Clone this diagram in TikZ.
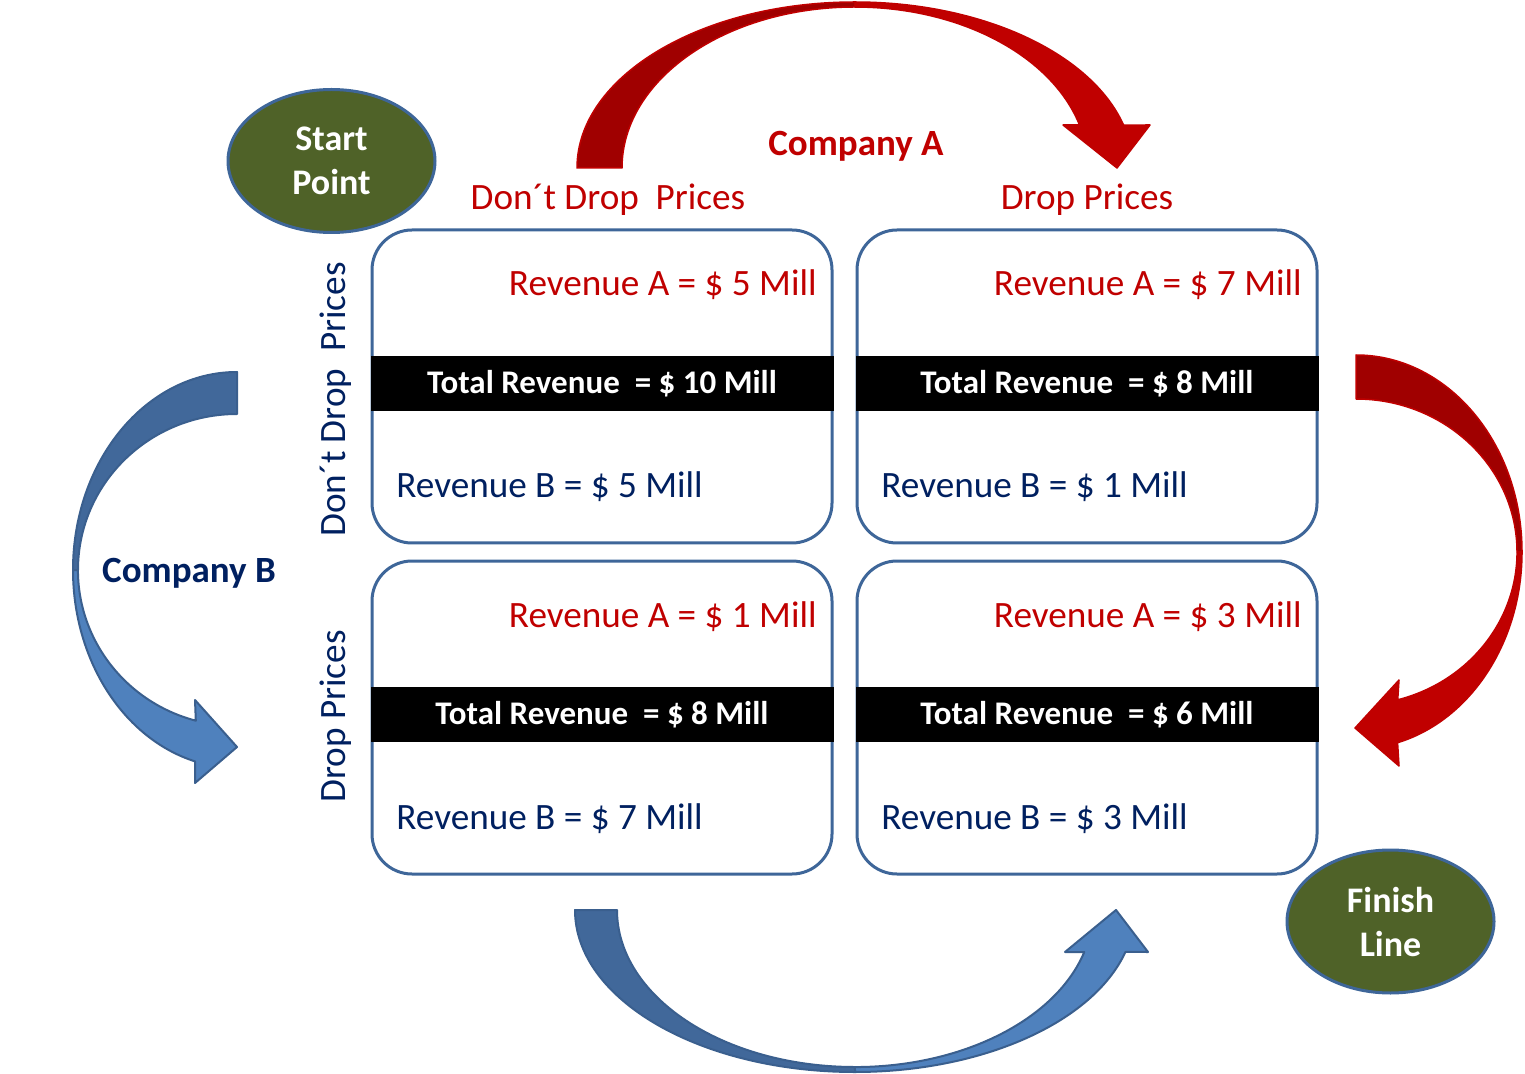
\documentclass[tikz,border=0pt]{standalone}
\usepackage{fontspec}
\setmainfont{Carlito}
\usetikzlibrary{shapes.geometric}
\definecolor{darkred}{HTML}{A00000}
\definecolor{brightred}{HTML}{C00000}
\definecolor{navy}{HTML}{002060}
\definecolor{frameblue}{HTML}{3E6699}
\definecolor{edgeblue}{HTML}{3A5F8E}
\definecolor{backblue}{HTML}{41689A}
\definecolor{frontblue}{HTML}{4F81BD}
\definecolor{olive}{HTML}{4F6228}

\begin{document}
\begin{tikzpicture}[x=0.5pt,y=-0.5pt,
		cell/.style={draw=frameblue,line width=1.5pt,rounded corners=20pt,minimum width=230pt,minimum height=156.5pt,inner sep=0pt},
		band/.style={fill=black,text=white,font=\fontsize{16.5}{19}\selectfont\bfseries,minimum width=231.5pt,minimum height=27.5pt,inner sep=0pt},
		reva/.style={text=brightred,font=\fontsize{18.6}{22}\selectfont,inner sep=0pt},
		revb/.style={text=navy,font=\fontsize{18.6}{22}\selectfont,inner sep=0pt},
		choice/.style={text=brightred,font=\fontsize{18.6}{22}\selectfont,inner sep=0pt},
		side/.style={text=navy,font=\fontsize{18.6}{22}\selectfont,inner sep=0pt,rotate=90},
		company/.style={font=\fontsize{18.5}{22}\selectfont\bfseries,inner sep=0pt},
		oval/.style={ellipse,draw=frameblue,line width=1.5pt,fill=olive,text=white,align=center,font=\fontsize{18}{22}\selectfont\bfseries,minimum width=103.5pt,minimum height=71.5pt,inner sep=0pt},
		redback/.style={fill=darkred,draw=brightred,line width=0.75pt,line join=round},
		redfront/.style={fill=brightred,draw=brightred,line width=0.75pt,line join=round},
		blueback/.style={fill=backblue,draw=edgeblue,line width=1pt,line join=round},
		bluefront/.style={fill=frontblue,draw=edgeblue,line width=1pt,line join=round}]

			\useasboundingbox (0,0) rectangle (1525,1074);
			\fill[white] (0,0) rectangle (1525,1074);

			% Company A, over the top
			\draw[redback] (577,168) arc[start angle=180,end angle=270,x radius=278,y radius=166]
				-- (855,7) arc[start angle=270,end angle=180,x radius=233,y radius=161] -- cycle;
			\draw[redfront] (855,2) arc[start angle=270,end angle=345,x radius=278,y radius=166]
				-- (1150,125) -- (1117,168) -- (1063,125) -- (1079.5,125)
				arc[start angle=344.5,end angle=270,x radius=233,y radius=161] -- cycle;

			% Company A, right side
			\draw[redback] (1356,355) arc[start angle=270,end angle=360,x radius=166,y radius=197]
				-- (1517,552) arc[start angle=360,end angle=270,x radius=161,y radius=153] -- cycle;
			\draw[redfront] (1522,552) arc[start angle=0,end angle=75.5,x radius=166,y radius=197]
				-- (1399,766) -- (1355,728) -- (1399,680) -- (1397.7,699.8)
				arc[start angle=75,end angle=0,x radius=161,y radius=153] -- cycle;

			% Company B, left side
			\draw[blueback] (237,372) arc[start angle=270,end angle=180,x radius=164,y radius=198]
				-- (78,570) arc[start angle=180,end angle=270,x radius=159,y radius=156] -- cycle;
			\draw[bluefront] (73,570) arc[start angle=180,end angle=104.8,x radius=164,y radius=198]
				-- (195,783) -- (237,747) -- (195,700) -- (195.8,720.7)
				arc[start angle=105,end angle=180,x radius=159,y radius=156] -- cycle;

			% Company B, under the bottom
			\draw[blueback] (575,910) arc[start angle=180,end angle=90,x radius=280,y radius=162]
				-- (855,1067) arc[start angle=90,end angle=180,x radius=238,y radius=157] -- cycle;
			\draw[bluefront] (855,1072) arc[start angle=90,end angle=15,x radius=280,y radius=162]
				-- (1148,952) -- (1116,910) -- (1065,952) -- (1084.3,952)
				arc[start angle=15.5,end angle=90,x radius=238,y radius=157] -- cycle;

			\foreach \dx/\dy/\ra/\rb/\tot [count=\i] in {0/0/5/5/10, 485/0/7/1/8, 0/331/1/7/8, 485/331/3/3/6} {
					\begin{scope}[shift={(\dx,\dy)}]
						\node[cell] (cell\i) at (602,386.5) {};
						\node[band] (band\i) at (602,383.5) {Total Revenue~ = \$ \tot{} Mill};
						\node[reva,anchor=base east] (ra\i) at (817,296) {Revenue A = \$ \ra{} Mill};
						\node[revb,anchor=base west] (rb\i) at (396,498) {Revenue B = \$ \rb{} Mill};
					\end{scope}
				}

			\node[choice,anchor=base] (dont) at (608,210) {Don´t Drop~ Prices};
			\node[choice,anchor=base] (drop) at (1087,210) {Drop Prices};
			\node[side,anchor=base] (sidedont) at (345,399.5) {Don´t Drop~ Prices};
			\node[side,anchor=base] (sidedrop) at (345,716.5) {Drop Prices};

			\node[company,text=brightred,anchor=base] (compa) at (856,156) {Company A};
			\node[company,text=navy,anchor=base] (compb) at (189,582) {Company B};

			\node[oval] (start) at (331.5,161) {Start\\Point};
			\node[oval] (finish) at (1390.5,921.5) {Finish\\Line};
		\end{tikzpicture}
\end{document}
